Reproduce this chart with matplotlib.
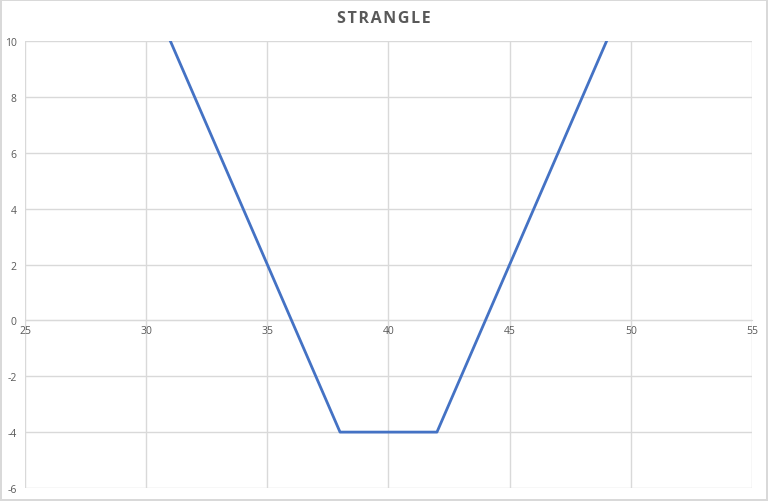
import matplotlib.pyplot as plt

# strangle payoff (strikes 38 / 42, net cost 4, 2 contracts)
prices = [25, 38, 42, 55]
payoff = [22, -4, -4, 22]
x_ticks = [25, 30, 35, 40, 45, 50, 55]
y_ticks = [-6, -4, -2, 0, 2, 4, 6, 8, 10]

plt.rcParams['font.family'] = ['Open Sans', 'DejaVu Sans']
plt.rcParams['axes.unicode_minus'] = False

grid_col = '#d9d9d9'
text_col = '#595959'

fig = plt.figure(figsize=(7.68, 5.02), dpi=100)
fig.patch.set_edgecolor(grid_col)
fig.patch.set_linewidth(1.5)
ax = fig.add_axes([0.0326, 0.026, 0.9465, 0.890])

ax.plot(prices, payoff, color='#4472C4', lw=2, zorder=3)
ax.set_xlim(25, 55)
ax.set_ylim(-6, 10)
ax.set_xticks(x_ticks)
ax.set_yticks(y_ticks)
ax.grid(True, color=grid_col, lw=1, zorder=0)

for s in ('top', 'right', 'left'):
    ax.spines[s].set_visible(False)
ax.spines['bottom'].set_position(('data', 0))
ax.spines['bottom'].set_color(grid_col)
ax.tick_params(axis='both', length=0, labelsize=7.5, labelcolor=text_col)
ax.tick_params(axis='x', pad=3)
ax.tick_params(axis='y', pad=6)

fig.text(0.5, 0.962, '\u200a'.join('STRANGLE'), ha='center', va='center',
         fontsize=11.5, fontweight='bold', color=text_col)

fig.savefig('out.png', dpi=100, edgecolor=fig.get_edgecolor())
